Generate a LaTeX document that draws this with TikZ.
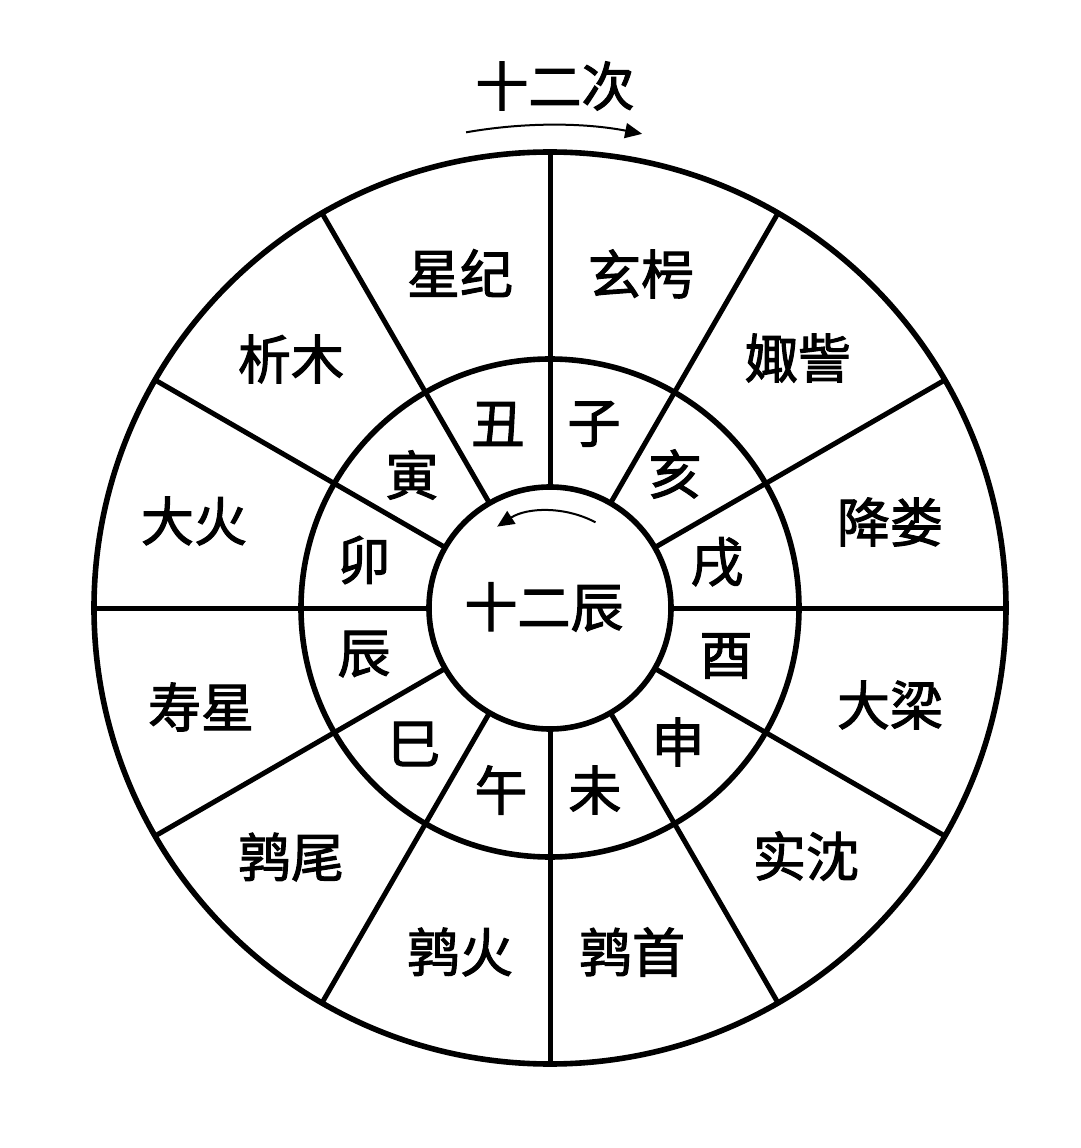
\documentclass[tikz,border=0pt]{standalone}
\usepackage{fontspec}
\setmainfont{Noto Sans CJK SC}[FakeBold=2]
\usetikzlibrary{arrows.meta}
\tikzset{
  ring/.style={line width=5.6pt},
  spoke/.style={line width=5pt},
  lbl/.style={font=\fontsize{53}{60}\selectfont, inner sep=0pt},
  flow/.style={line width=2pt, -{Triangle[length=17pt,width=15pt]}}
}
\begin{document}
\begin{tikzpicture}[x=1pt,y=1pt]
\useasboundingbox (-550,-540) rectangle (530,608);

\draw[ring] (0,0) circle (456);
\draw[ring] (0,0) circle (249);
\draw[ring] (0,0) circle (121);

\draw[spoke] (0:121) -- (0:456);
\draw[spoke] (30:121) -- (30:456);
\draw[spoke] (60:121) -- (60:456);
\draw[spoke] (90:121) -- (90:456);
\draw[spoke] (120:121) -- (120:456);
\draw[spoke] (150:121) -- (150:456);
\draw[spoke] (180:121) -- (180:456);
\draw[spoke] (210:121) -- (210:456);
\draw[spoke] (240:121) -- (240:456);
\draw[spoke] (270:121) -- (270:456);
\draw[spoke] (300:121) -- (300:456);
\draw[spoke] (330:121) -- (330:456);

% outer ring: twelve ci
\node[lbl] (xuanxiao) at (91,334) {玄枵};
\node[lbl] (xingji) at (-90,335) {星纪};
\node[lbl] (ximu) at (-259,249) {析木};
\node[lbl] (dahuo) at (-356,87) {大火};
\node[lbl] (shouxing) at (-349,-99) {寿星};
\node[lbl] (chunwei) at (-259,-249) {鹑尾};
\node[lbl] (chunhuo) at (-90,-344) {鹑火};
\node[lbl] (chunshou) at (82,-344) {鹑首};
\node[lbl] (shishen) at (256,-248) {实沈};
\node[lbl] (daliang) at (340,-97) {大梁};
\node[lbl] (jianglou) at (340,86) {降娄};
\node[lbl] (juzi) at (248,250) {娵訾};

% middle ring: twelve chen
\node[lbl] (zi) at (44,184) {子};
\node[lbl] (chou) at (-52,184) {丑};
\node[lbl] (yin) at (-138,133) {寅};
\node[lbl] (mao) at (-186,48) {卯};
\node[lbl] (chen) at (-186,-46) {辰};
\node[lbl] (si) at (-136,-136) {巳};
\node[lbl] (wu) at (-49,-182) {午};
\node[lbl] (wei) at (45,-182) {未};
\node[lbl] (shen) at (128,-134) {申};
\node[lbl] (you) at (176,-48) {酉};
\node[lbl] (xu) at (167,46) {戌};
\node[lbl] (hai) at (125,134) {亥};

\node[lbl] (shierchen) at (-6,1) {十二辰};
\node[lbl] (shierci) at (5,522) {十二次};

\draw[flow] (100:483) arc[start angle=100, end angle=79, radius=483];
\draw[flow] (62:97) arc[start angle=62, end angle=123, radius=97];
\end{tikzpicture}
\end{document}
